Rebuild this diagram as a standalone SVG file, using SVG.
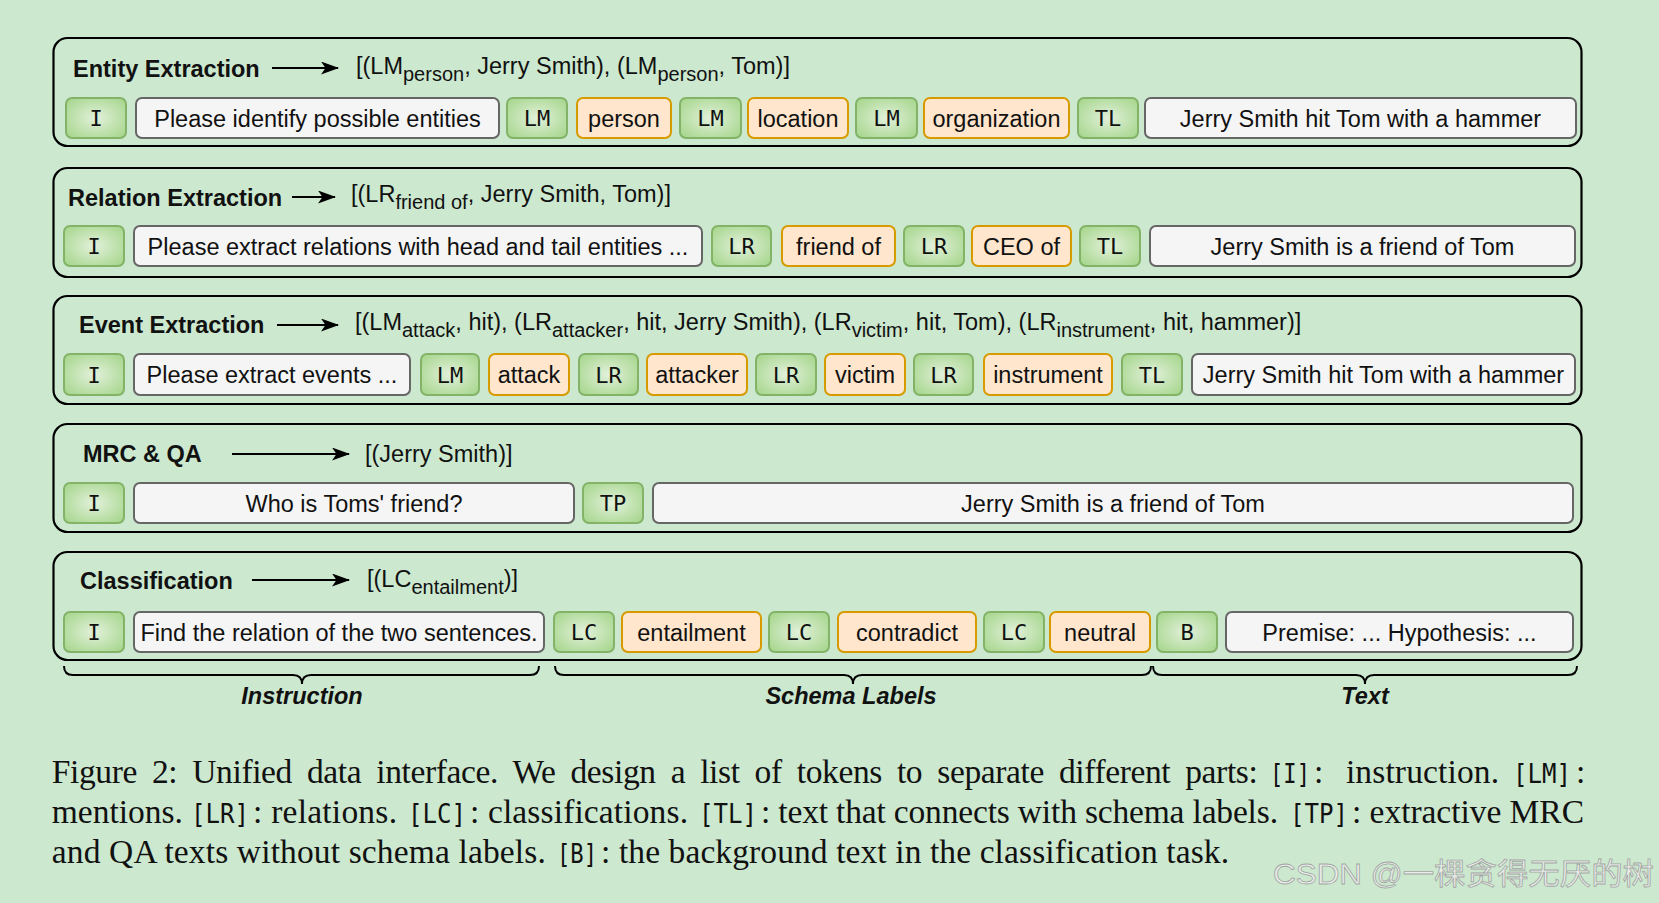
<svg xmlns="http://www.w3.org/2000/svg" width="1659" height="903" viewBox="0 0 1659 903">
<defs>
<radialGradient id="gg" cx="50%" cy="50%" r="60%">
<stop offset="0%" stop-color="#e2f1db"/>
<stop offset="100%" stop-color="#abd893"/>
</radialGradient>
<marker id="ah" viewBox="0 0 18 13" refX="17" refY="6.5" markerWidth="18" markerHeight="13" markerUnits="userSpaceOnUse" orient="auto">
<path d="M0,0 L18,6.5 L0,13 L4.5,6.5 z" fill="#000"/>
</marker>
<style>
.frame{fill:none;stroke:#000;stroke-width:2.2}
.g{fill:url(#gg);stroke:#82b366;stroke-width:2}
.o{fill:#ffe6cc;stroke:#d79b00;stroke-width:2}
.w{fill:#f5f5f5;stroke:#666;stroke-width:2}
.t{font-family:"Liberation Sans",Arial,sans-serif;font-size:23.5px;text-anchor:middle;fill:#111}
.m{font-family:"DejaVu Sans Mono",monospace;font-size:22px;text-anchor:middle;fill:#111}
.h{font-family:"Liberation Sans",Arial,sans-serif;font-size:23.5px;font-weight:bold;fill:#111}
.s{font-family:"Liberation Sans",Arial,sans-serif;font-size:23.5px;fill:#111}
.sb{font-size:20px}
.arr{stroke:#000;stroke-width:2;fill:none;marker-end:url(#ah)}
.br{stroke:#000;stroke-width:2;fill:none}
.bl{font-family:"Liberation Sans",Arial,sans-serif;font-size:23.5px;font-weight:bold;font-style:italic;text-anchor:middle;fill:#111}
.c{font-family:"Liberation Serif","Times New Roman",serif;font-size:33.5px;fill:#111}
.cm{font-family:"DejaVu Sans Mono",monospace;font-size:27px;fill:#111}
.wm{font-family:"Liberation Sans","Noto Sans CJK SC",sans-serif;font-size:30px;fill:#eeeeee;stroke:#9a9a9a;stroke-width:0.8;opacity:0.85}
</style>
</defs>
<rect width="1659" height="903" fill="#cce8cf"/>

<!-- Panel 1: Entity Extraction -->
<g id="entity-extraction">
<rect class="frame" x="53.5" y="38" width="1528" height="108" rx="14"/>
<text class="h" x="73" y="77">Entity Extraction</text>
<text class="s" x="356" y="74">[(LM<tspan class="sb" dy="7">person</tspan><tspan dy="-7">, Jerry Smith), (LM</tspan><tspan class="sb" dy="7">person</tspan><tspan dy="-7">, Tom)]</tspan></text>
</g>
<g id="ee-I"><rect class="g" x="66" y="98" width="60" height="40" rx="6"/><text class="m" x="96" y="126">I</text></g>
<g id="ee-instr"><rect class="w" x="136" y="98" width="363" height="40" rx="6"/><text class="t" x="317.5" y="126.5">Please identify possible entities</text></g>
<g id="ee-LM1"><rect class="g" x="507" y="98" width="60" height="40" rx="6"/><text class="m" x="537" y="126">LM</text></g>
<g id="ee-person"><rect class="o" x="577" y="98" width="94" height="40" rx="6"/><text class="t" x="624" y="126.5">person</text></g>
<g id="ee-LM2"><rect class="g" x="680" y="98" width="61" height="40" rx="6"/><text class="m" x="710.5" y="126">LM</text></g>
<g id="ee-location"><rect class="o" x="748" y="98" width="100" height="40" rx="6"/><text class="t" x="798" y="126.5">location</text></g>
<g id="ee-LM3"><rect class="g" x="856" y="98" width="61" height="40" rx="6"/><text class="m" x="886.5" y="126">LM</text></g>
<g id="ee-organization"><rect class="o" x="924" y="98" width="145" height="40" rx="6"/><text class="t" x="996.5" y="126.5">organization</text></g>
<g id="ee-TL"><rect class="g" x="1078" y="98" width="60" height="40" rx="6"/><text class="m" x="1108" y="126">TL</text></g>
<g id="ee-text"><rect class="w" x="1145" y="98" width="431" height="40" rx="6"/><text class="t" x="1360.5" y="126.5">Jerry Smith hit Tom with a hammer</text></g>

<!-- Panel 2: Relation Extraction -->
<g id="relation-extraction">
<rect class="frame" x="53.5" y="168" width="1528" height="109" rx="14"/>
<text class="h" x="68" y="206">Relation Extraction</text>
<text class="s" x="351" y="202">[(LR<tspan class="sb" dy="7">friend of</tspan><tspan dy="-7">, Jerry Smith, Tom)]</tspan></text>
</g>
<g id="re-I"><rect class="g" x="64" y="226" width="60" height="40" rx="6"/><text class="m" x="94" y="254">I</text></g>
<g id="re-instr"><rect class="w" x="134" y="226" width="568" height="40" rx="6"/><text class="t" x="418" y="254.5">Please extract relations with head and tail entities ...</text></g>
<g id="re-LR1"><rect class="g" x="712" y="226" width="59" height="40" rx="6"/><text class="m" x="741.5" y="254">LR</text></g>
<g id="re-friend"><rect class="o" x="782" y="226" width="113" height="40" rx="6"/><text class="t" x="838.5" y="254.5">friend of</text></g>
<g id="re-LR2"><rect class="g" x="904" y="226" width="60" height="40" rx="6"/><text class="m" x="934" y="254">LR</text></g>
<g id="re-ceo"><rect class="o" x="972" y="226" width="99" height="40" rx="6"/><text class="t" x="1021.5" y="254.5">CEO of</text></g>
<g id="re-TL"><rect class="g" x="1080" y="226" width="60" height="40" rx="6"/><text class="m" x="1110" y="254">TL</text></g>
<g id="re-text"><rect class="w" x="1150" y="226" width="425" height="40" rx="6"/><text class="t" x="1362.5" y="254.5">Jerry Smith is a friend of Tom</text></g>

<!-- Panel 3: Event Extraction -->
<g id="event-extraction">
<rect class="frame" x="53.5" y="296" width="1528" height="108" rx="14"/>
<text class="h" x="79" y="333">Event Extraction</text>
<text class="s" x="355" y="330">[(LM<tspan class="sb" dy="7">attack</tspan><tspan dy="-7">, hit), (LR</tspan><tspan class="sb" dy="7">attacker</tspan><tspan dy="-7">, hit, Jerry Smith), (LR</tspan><tspan class="sb" dy="7">victim</tspan><tspan dy="-7">, hit, Tom), (LR</tspan><tspan class="sb" dy="7">instrument</tspan><tspan dy="-7">, hit, hammer)]</tspan></text>
</g>
<g id="ev-I"><rect class="g" x="64" y="354" width="60" height="41" rx="6"/><text class="m" x="94" y="382.5">I</text></g>
<g id="ev-instr"><rect class="w" x="134" y="354" width="276" height="41" rx="6"/><text class="t" x="272" y="383">Please extract events ...</text></g>
<g id="ev-LM"><rect class="g" x="421" y="354" width="58" height="41" rx="6"/><text class="m" x="450" y="382.5">LM</text></g>
<g id="ev-attack"><rect class="o" x="489" y="354" width="80" height="41" rx="6"/><text class="t" x="529" y="383">attack</text></g>
<g id="ev-LR1"><rect class="g" x="579" y="354" width="59" height="41" rx="6"/><text class="m" x="608.5" y="382.5">LR</text></g>
<g id="ev-attacker"><rect class="o" x="647" y="354" width="100" height="41" rx="6"/><text class="t" x="697" y="383">attacker</text></g>
<g id="ev-LR2"><rect class="g" x="756" y="354" width="60" height="41" rx="6"/><text class="m" x="786" y="382.5">LR</text></g>
<g id="ev-victim"><rect class="o" x="825" y="354" width="80" height="41" rx="6"/><text class="t" x="865" y="383">victim</text></g>
<g id="ev-LR3"><rect class="g" x="914" y="354" width="59" height="41" rx="6"/><text class="m" x="943.5" y="382.5">LR</text></g>
<g id="ev-instrument"><rect class="o" x="984" y="354" width="128" height="41" rx="6"/><text class="t" x="1048" y="383">instrument</text></g>
<g id="ev-TL"><rect class="g" x="1122" y="354" width="60" height="41" rx="6"/><text class="m" x="1152" y="382.5">TL</text></g>
<g id="ev-text"><rect class="w" x="1192" y="354" width="383" height="41" rx="6"/><text class="t" x="1383.5" y="383">Jerry Smith hit Tom with a hammer</text></g>

<!-- Panel 4: MRC & QA -->
<g id="mrc-qa">
<rect class="frame" x="53.5" y="424" width="1528" height="108" rx="14"/>
<text class="h" x="83" y="462">MRC &amp; QA</text>
<text class="s" x="365" y="462">[(Jerry Smith)]</text>
</g>
<g id="qa-I"><rect class="g" x="64" y="483" width="60" height="40" rx="6"/><text class="m" x="94" y="511">I</text></g>
<g id="qa-question"><rect class="w" x="134" y="483" width="440" height="40" rx="6"/><text class="t" x="354" y="511.5">Who is Toms' friend?</text></g>
<g id="qa-TP"><rect class="g" x="583" y="483" width="60" height="40" rx="6"/><text class="m" x="613" y="511">TP</text></g>
<g id="qa-text"><rect class="w" x="653" y="483" width="920" height="40" rx="6"/><text class="t" x="1113" y="511.5">Jerry Smith is a friend of Tom</text></g>

<!-- Panel 5: Classification -->
<g id="classification">
<rect class="frame" x="53.5" y="552" width="1528" height="108" rx="14"/>
<text class="h" x="80" y="589">Classification</text>
<text class="s" x="367" y="587">[(LC<tspan class="sb" dy="7">entailment</tspan><tspan dy="-7">)]</tspan></text>
</g>
<g id="cl-I"><rect class="g" x="64" y="612" width="60" height="40" rx="6"/><text class="m" x="94" y="640">I</text></g>
<g id="cl-instr"><rect class="w" x="134" y="612" width="410" height="40" rx="6"/><text class="t" x="339" y="640.5">Find the relation of the two sentences.</text></g>
<g id="cl-LC1"><rect class="g" x="554" y="612" width="60" height="40" rx="6"/><text class="m" x="584" y="640">LC</text></g>
<g id="cl-entailment"><rect class="o" x="622" y="612" width="139" height="40" rx="6"/><text class="t" x="691.5" y="640.5">entailment</text></g>
<g id="cl-LC2"><rect class="g" x="769" y="612" width="60" height="40" rx="6"/><text class="m" x="799" y="640">LC</text></g>
<g id="cl-contradict"><rect class="o" x="838" y="612" width="138" height="40" rx="6"/><text class="t" x="907" y="640.5">contradict</text></g>
<g id="cl-LC3"><rect class="g" x="984" y="612" width="60" height="40" rx="6"/><text class="m" x="1014" y="640">LC</text></g>
<g id="cl-neutral"><rect class="o" x="1050" y="612" width="100" height="40" rx="6"/><text class="t" x="1100" y="640.5">neutral</text></g>
<g id="cl-B"><rect class="g" x="1157" y="612" width="60" height="40" rx="6"/><text class="m" x="1187" y="640">B</text></g>
<g id="cl-text"><rect class="w" x="1226" y="612" width="347" height="40" rx="6"/><text class="t" x="1399.5" y="640.5">Premise: ... Hypothesis: ...</text></g>

<!-- Connectors -->
<g id="connectors">
<line class="arr" x1="272" y1="68" x2="338" y2="68"/>
<line class="arr" x1="292" y1="197" x2="335" y2="197"/>
<line class="arr" x1="277" y1="325" x2="338" y2="325"/>
<line class="arr" x1="232" y1="454" x2="349" y2="454"/>
<line class="arr" x1="252" y1="580" x2="349" y2="580"/>
</g>

<!-- Braces -->
<g id="brace-instruction">
<path class="br" d="M64,666 Q64,675 73,675 L293,675 Q302,675 302,684 Q302,675 311,675 L530,675 Q539,675 539,666"/>
<text class="bl" x="302" y="704">Instruction</text>
</g>
<g id="brace-schema">
<path class="br" d="M555,666 Q555,675 564,675 L844,675 Q853,675 853,684 Q853,675 862,675 L1142,675 Q1151,675 1151,666"/>
<text class="bl" x="851" y="704">Schema Labels</text>
</g>
<g id="brace-text">
<path class="br" d="M1153,666 Q1153,675 1162,675 L1356,675 Q1365,675 1365,684 Q1365,675 1374,675 L1568,675 Q1577,675 1577,666"/>
<text class="bl" x="1365" y="704">Text</text>
</g>

<!-- Caption -->
<g id="caption">
<text class="c" x="51.8" y="783" word-spacing="7" textLength="1206" lengthAdjust="spacing">Figure 2:  Unified data interface.  We design a list of tokens to separate different parts:</text>
<text class="cm" x="1270" y="783" textLength="40" lengthAdjust="spacingAndGlyphs">[I]</text>
<text class="c" x="1314" y="783" textLength="185" lengthAdjust="spacing" word-spacing="14">: instruction.</text>
<text class="cm" x="1513" y="783" textLength="58" lengthAdjust="spacingAndGlyphs">[LM]</text>
<text class="c" x="1576" y="783">:</text>

<text class="c" x="51.8" y="823">mentions.</text>
<text class="cm" x="191" y="823" textLength="58" lengthAdjust="spacingAndGlyphs">[LR]</text>
<text class="c" x="253" y="823" textLength="144" lengthAdjust="spacing">: relations.</text>
<text class="cm" x="408" y="823" textLength="58" lengthAdjust="spacingAndGlyphs">[LC]</text>
<text class="c" x="470" y="823" textLength="218" lengthAdjust="spacing">: classifications.</text>
<text class="cm" x="699" y="823" textLength="58" lengthAdjust="spacingAndGlyphs">[TL]</text>
<text class="c" x="761" y="823" textLength="517" lengthAdjust="spacing">: text that connects with schema labels.</text>
<text class="cm" x="1290" y="823" textLength="58" lengthAdjust="spacingAndGlyphs">[TP]</text>
<text class="c" x="1352" y="823" textLength="232" lengthAdjust="spacing">: extractive MRC</text>

<text class="c" x="51.8" y="863" textLength="494" lengthAdjust="spacing">and QA texts without schema labels.</text>
<text class="cm" x="557" y="863" textLength="40" lengthAdjust="spacingAndGlyphs">[B]</text>
<text class="c" x="601" y="863" textLength="628" lengthAdjust="spacing">: the background text in the classification task.</text>
</g>

<text class="wm" x="1273" y="884" textLength="381" lengthAdjust="spacingAndGlyphs">CSDN @一棵贪得无厌的树</text>
</svg>
